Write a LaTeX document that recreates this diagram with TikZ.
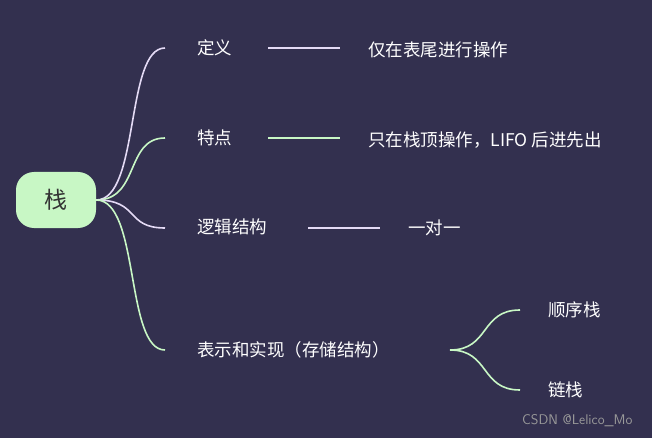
\documentclass[tikz,border=0pt]{standalone}
\usepackage{fontspec}
\newfontfamily\cjk{Noto Sans CJK SC}
\definecolor{bg}{HTML}{33304F}
\definecolor{lav}{HTML}{E4DAF5}
\definecolor{grn}{HTML}{C8F7C5}
\begin{document}
\begin{tikzpicture}[x=1pt,y=-1pt,
  lbl/.style={anchor=west,text=white,font=\cjk\fontsize{17.5}{20}\selectfont,inner sep=0},
  br/.style={line width=1.6pt}]
\fill[bg] (0,0) rectangle (652,438);
\useasboundingbox (0,0) rectangle (652,438);
\node[fill=grn,rounded corners=18pt,minimum width=80pt,minimum height=56pt,font=\cjk\fontsize{23}{26}\selectfont,text=black!80] (root) at (56,200) {栈};
\node[lbl] (a) at (197,48) {定义};
\node[lbl] (a2) at (368,50) {仅在表尾进行操作};
\node[lbl] (b) at (197,138) {特点};
\node[lbl] (b2) at (368,140) {只在栈顶操作，LIFO 后进先出};
\node[lbl] (c) at (197,227) {逻辑结构};
\node[lbl] (c2) at (408,228) {一对一};
\node[lbl] (d) at (197,350) {表示和实现（存储结构）};
\node[lbl] (d1) at (548,310) {顺序栈};
\node[lbl] (d2) at (548,390) {链栈};
\node[anchor=east,text=gray!80,font=\fontsize{14}{16}\selectfont\sffamily] (wm) at (636,421) {CSDN @Lelico\_Mo};
\coordinate (r) at (root.east);
\draw[br,lav] (r) .. controls (140,200) and (125,48) .. (165,48);
\draw[br,grn] (r) .. controls (140,200) and (125,138) .. (165,138);
\draw[br,lav] (r) .. controls (140,200) and (125,228) .. (165,228);
\draw[br,grn] (r) .. controls (140,200) and (125,350) .. (165,350);
\draw[br,lav] (268,48) -- (340,48);
\draw[br,grn] (268,138) -- (340,138);
\draw[br,lav] (308,228) -- (380,228);
\coordinate (f) at (450,350);
\draw[br,grn] (f) .. controls (490,350) and (480,310) .. (520,310);
\draw[br,grn] (f) .. controls (490,350) and (480,390) .. (520,390);
\end{tikzpicture}
\end{document}
